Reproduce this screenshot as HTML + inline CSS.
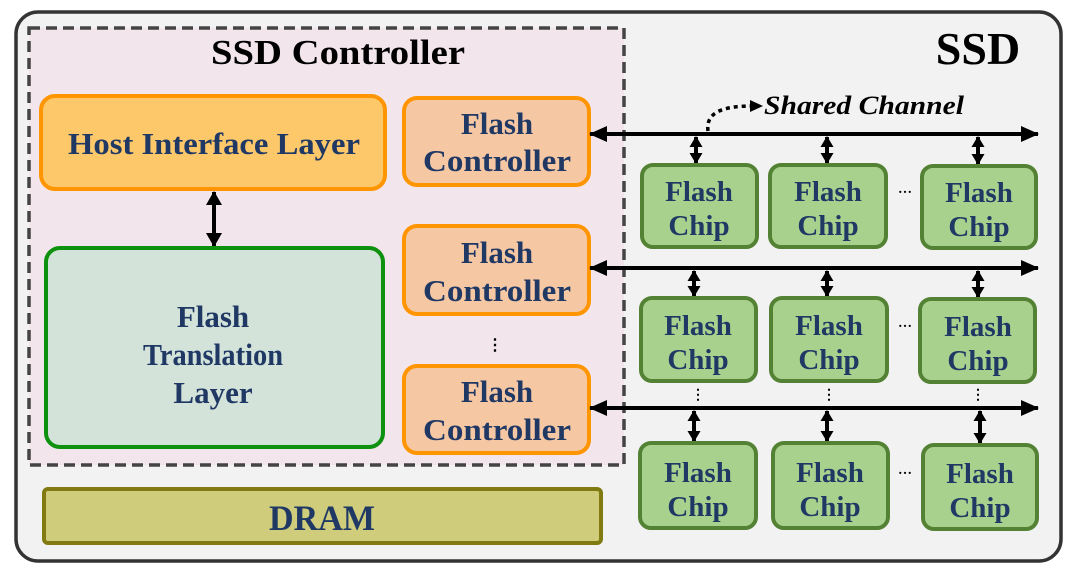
<!DOCTYPE html>
<html><head><meta charset="utf-8"><style>
html,body{margin:0;padding:0;background:#fff;}
svg{display:block;}
text{font-family:"Liberation Serif",serif;font-weight:bold;}
.n{fill:#1f3864;font-size:29px;text-anchor:middle;}
.c{fill:#1f3864;font-size:31px;text-anchor:middle;}
</style></head><body>
<svg width="1080" height="572" viewBox="0 0 1080 572" xmlns="http://www.w3.org/2000/svg">
<defs>
<marker id="ah" markerWidth="18" markerHeight="16" refX="17" refY="8" orient="auto-start-reverse" markerUnits="userSpaceOnUse"><path d="M0,0 L18,8 L0,16 z" fill="#000"/></marker>
<marker id="as" markerWidth="11" markerHeight="13" refX="10" refY="6.5" orient="auto-start-reverse" markerUnits="userSpaceOnUse"><path d="M0,0 L11,6.5 L0,13 z" fill="#000"/></marker>
<marker id="am" markerWidth="14" markerHeight="16" refX="13" refY="8" orient="auto-start-reverse" markerUnits="userSpaceOnUse"><path d="M0,0 L14,8 L0,16 z" fill="#000"/></marker>
</defs>
<rect x="16" y="12" width="1045" height="549" rx="22" fill="#f2f2f2" stroke="#333" stroke-width="3.5"/>
<rect x="29" y="28" width="595" height="437" fill="#f2e6ec" stroke="#444" stroke-width="3.5" stroke-dasharray="11,6"/>
<text x="338" y="64" font-size="35" text-anchor="middle" fill="#000" textLength="254" lengthAdjust="spacingAndGlyphs">SSD Controller</text>
<text x="978" y="64" font-size="46" text-anchor="middle" fill="#000">SSD</text>

<rect x="41" y="96" width="344" height="93" rx="14" fill="#fdc86a" stroke="#ff9500" stroke-width="4"/>
<text class="c" x="214" y="154" textLength="292" lengthAdjust="spacingAndGlyphs">Host Interface Layer</text>
<line x1="214" y1="192" x2="214" y2="246" stroke="#000" stroke-width="4" marker-start="url(#am)" marker-end="url(#am)"/>
<rect x="46" y="248" width="337" height="199" rx="14" fill="#d3e3da" stroke="#0f9110" stroke-width="4"/>
<text class="c" x="213" y="327">Flash</text>
<text class="c" x="213" y="365" textLength="140" lengthAdjust="spacingAndGlyphs">Translation</text>
<text class="c" x="213" y="403">Layer</text>

<g fill="#f6c7a3" stroke="#ff9500" stroke-width="4">
<rect x="404" y="98" width="185" height="87" rx="13"/>
<rect x="404" y="226" width="185" height="88" rx="13"/>
<rect x="404" y="366" width="185" height="87" rx="13"/>
</g>
<text class="c" x="497" y="134">Flash</text><text class="c" x="497" y="171" textLength="148" lengthAdjust="spacingAndGlyphs">Controller</text>
<text class="c" x="497" y="263">Flash</text><text class="c" x="497" y="301" textLength="148" lengthAdjust="spacingAndGlyphs">Controller</text>
<text class="c" x="497" y="402">Flash</text><text class="c" x="497" y="440" textLength="148" lengthAdjust="spacingAndGlyphs">Controller</text>
<text x="495" y="350" font-size="16" text-anchor="middle" fill="#000">⋮</text>

<g stroke="#000" stroke-width="4">
<line x1="590" y1="134" x2="1038" y2="134" marker-start="url(#ah)" marker-end="url(#ah)"/>
<line x1="590" y1="268" x2="1038" y2="268" marker-start="url(#ah)" marker-end="url(#ah)"/>
<line x1="590" y1="408" x2="1038" y2="408" marker-start="url(#ah)" marker-end="url(#ah)"/>
</g>
<g stroke="#000" stroke-width="4">
<line x1="696" y1="137" x2="696" y2="163" marker-start="url(#as)" marker-end="url(#as)"/>
<line x1="827" y1="137" x2="827" y2="163" marker-start="url(#as)" marker-end="url(#as)"/>
<line x1="978" y1="137" x2="978" y2="164" marker-start="url(#as)" marker-end="url(#as)"/>
<line x1="694" y1="271" x2="694" y2="296" marker-start="url(#as)" marker-end="url(#as)"/>
<line x1="827" y1="271" x2="827" y2="296" marker-start="url(#as)" marker-end="url(#as)"/>
<line x1="978" y1="271" x2="978" y2="297" marker-start="url(#as)" marker-end="url(#as)"/>
<line x1="694" y1="411" x2="694" y2="441" marker-start="url(#as)" marker-end="url(#as)"/>
<line x1="827" y1="411" x2="827" y2="441" marker-start="url(#as)" marker-end="url(#as)"/>
<line x1="980" y1="411" x2="980" y2="443" marker-start="url(#as)" marker-end="url(#as)"/>
</g>
<path d="M708,131 C706,116 716,106 752,106" fill="none" stroke="#000" stroke-width="3.5" stroke-dasharray="4,4"/>
<path d="M750,100 L763,106 L750,112 z" fill="#000"/>
<text x="764" y="114" font-size="26" font-style="italic" fill="#000" textLength="200" lengthAdjust="spacingAndGlyphs">Shared Channel</text>

<g fill="#a9d18e" stroke="#548235" stroke-width="4">
<rect x="642" y="165" width="115" height="82" rx="11"/>
<rect x="770" y="165" width="116" height="82" rx="11"/>
<rect x="922" y="166" width="114" height="82" rx="11"/>
<rect x="641" y="298" width="115" height="83" rx="11"/>
<rect x="771" y="298" width="116" height="83" rx="11"/>
<rect x="920" y="299" width="115" height="83" rx="11"/>
<rect x="640" y="443" width="116" height="85" rx="11"/>
<rect x="773" y="443" width="115" height="85" rx="11"/>
<rect x="923" y="445" width="114" height="84" rx="11"/>
</g>
<text class="n" x="699" y="201">Flash</text><text class="n" x="699" y="235">Chip</text>
<text class="n" x="828" y="201">Flash</text><text class="n" x="828" y="235">Chip</text>
<text class="n" x="979" y="202">Flash</text><text class="n" x="979" y="236">Chip</text>
<text class="n" x="698" y="335">Flash</text><text class="n" x="698" y="369">Chip</text>
<text class="n" x="829" y="335">Flash</text><text class="n" x="829" y="369">Chip</text>
<text class="n" x="978" y="336">Flash</text><text class="n" x="978" y="370">Chip</text>
<text class="n" x="698" y="482">Flash</text><text class="n" x="698" y="516">Chip</text>
<text class="n" x="830" y="482">Flash</text><text class="n" x="830" y="516">Chip</text>
<text class="n" x="980" y="483">Flash</text><text class="n" x="980" y="517">Chip</text>
<g font-size="14" fill="#000" text-anchor="middle">
<text x="905" y="193">…</text><text x="905" y="327">…</text><text x="905" y="474">…</text>
<text x="698" y="399">⋮</text><text x="829" y="399">⋮</text><text x="978" y="399">⋮</text>
</g>

<rect x="44" y="489" width="557" height="54" rx="4" fill="#cfcd7b" stroke="#807a10" stroke-width="4"/>
<text x="322" y="530" font-size="36" text-anchor="middle" fill="#1f3864" textLength="106" lengthAdjust="spacingAndGlyphs">DRAM</text>
</svg>
</body></html>
